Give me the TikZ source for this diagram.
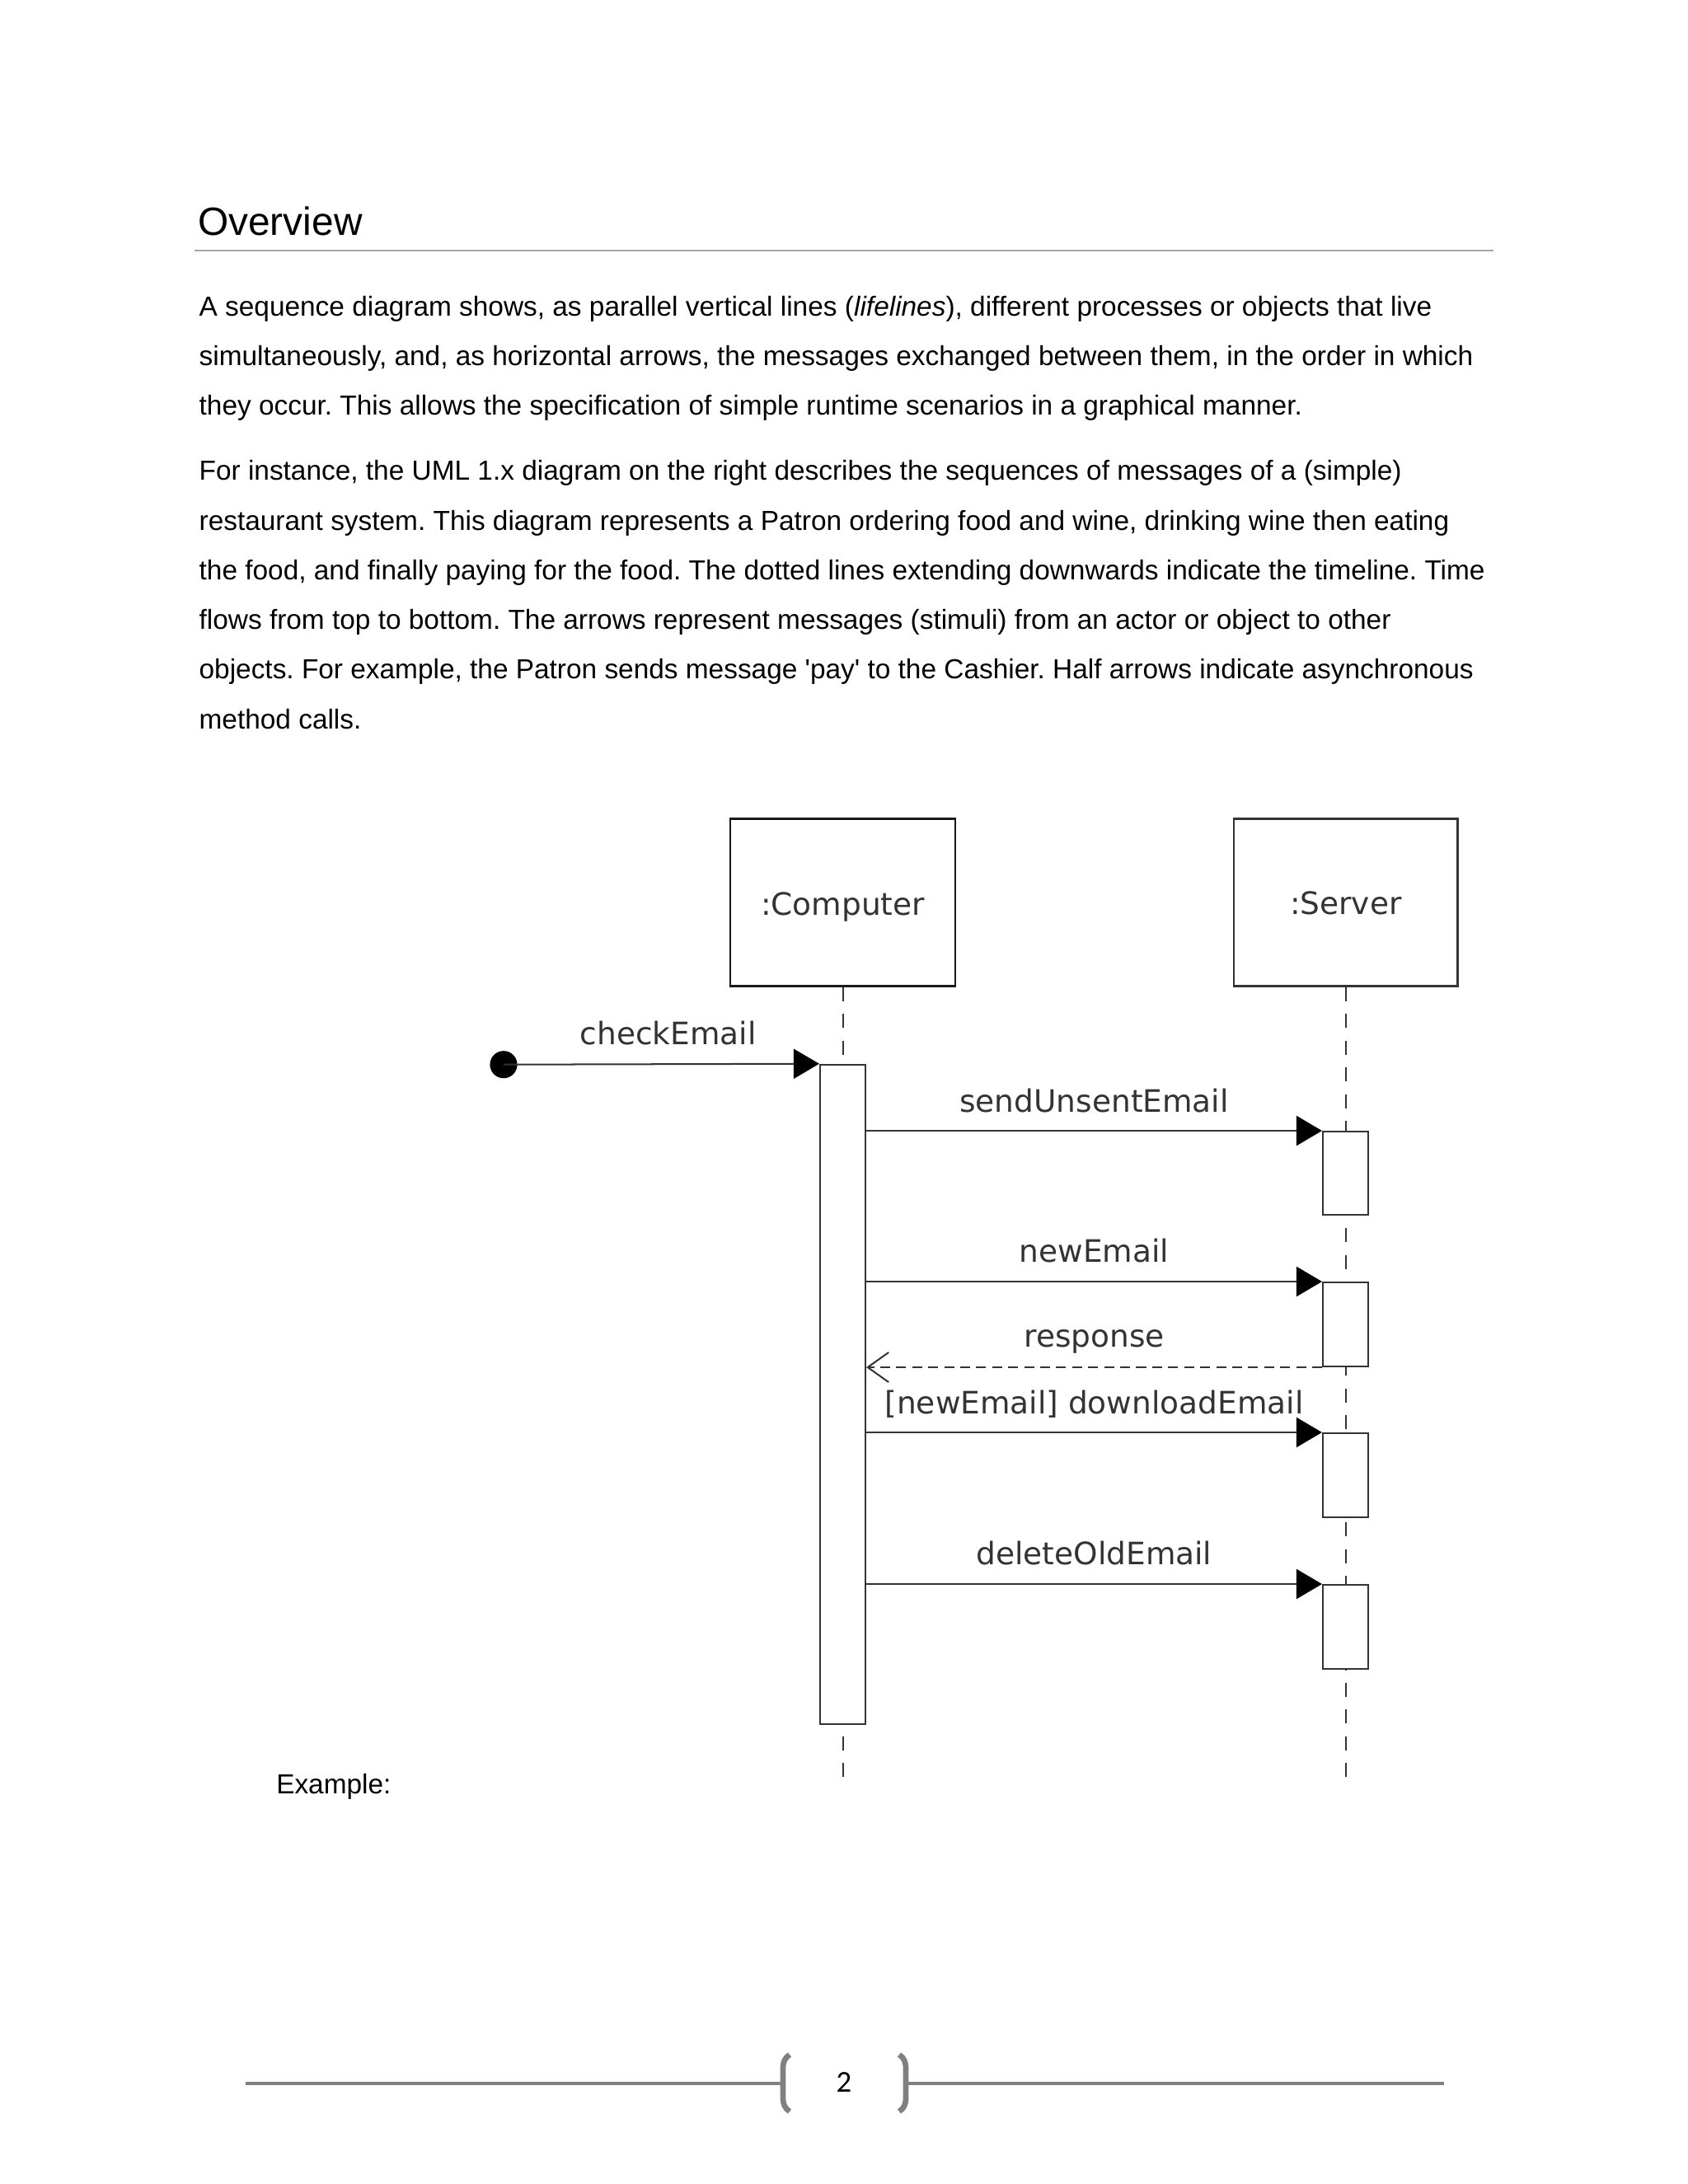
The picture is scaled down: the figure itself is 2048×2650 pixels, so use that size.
\documentclass[tikz,border=0pt]{standalone}
\usepackage{fontspec}
\setmainfont{Liberation Sans}
\newfontfamily\umlfont{DejaVu Sans}
\newfontfamily\pagefont{Carlito}
\usepackage{xcolor}
\usetikzlibrary{arrows.meta,fit}
\frenchspacing

\definecolor{umlgray}{RGB}{51,51,51}
\definecolor{rulegray}{RGB}{166,166,166}
\definecolor{footgray}{RGB}{128,128,128}

\tikzset{
  bodytext/.style={anchor=base west, inner sep=0pt, font=\fontsize{9.98}{12}\selectfont},
  lifeline/.style={draw=umlgray, line width=0.6pt, dash pattern=on 5.1pt off 4.6pt},
  objbox/.style={draw=black!90, line width=0.8pt, inner sep=0pt},
  actbar/.style={draw=umlgray, fill=white, line width=0.6pt, inner sep=0pt},
  umllabel/.style={font=\umlfont\fontsize{11.2}{13}\selectfont, text=umlgray, inner sep=0pt, anchor=base},
  callmsg/.style={draw=umlgray, line width=0.6pt, -{Triangle[length=9.3pt,width=10.8pt,color=black]}},
  replymsg/.style={draw=umlgray, line width=0.6pt, dash pattern=on 3.6pt off 2.2pt, -{Straight Barb[length=7.6pt,width=10.8pt]}},
  bracketline/.style={draw=footgray, line width=2pt},
}

\begin{document}
\begin{tikzpicture}[x=0.298828pt,y=0.298828pt,yscale=-1,xscale=1]
\useasboundingbox (0,0) rectangle (2048,2650);

% Text Node
\node[anchor=base west, inner sep=0pt, font=\fontsize{14.3}{17}\selectfont] (title) at (239.5,285.7) {Overview};
%Straight Lines
\draw[rulegray, line width=0.7pt] (236,304.3) -- (1812,304.3);

% Text Node
\node[bodytext] (pa1) at (241,383.3) {A sequence diagram shows, as parallel vertical lines (\textit{lifelines}), different processes or objects that live};
\node[bodytext] (pa2) at (241,443.6) {simultaneously, and, as horizontal arrows, the messages exchanged between them, in the order in which};
\node[bodytext] (pa3) at (241,503.9) {they occur. This allows the specification of simple runtime scenarios in a graphical manner.};
% Text Node
\node[bodytext] (pb1) at (241,582.7) {For instance, the UML 1.x diagram on the right describes the sequences of messages of a (simple)};
\node[bodytext] (pb2) at (241,643.0) {restaurant system. This diagram represents a Patron ordering food and wine, drinking wine then eating};
\node[bodytext] (pb3) at (241,703.3) {the food, and finally paying for the food. The dotted lines extending downwards indicate the timeline. Time};
\node[bodytext] (pb4) at (241,763.6) {flows from top to bottom. The arrows represent messages (stimuli) from an actor or object to other};
\node[bodytext] (pb5) at (241,823.9) {objects. For example, the Patron sends message \textquotesingle pay\textquotesingle{} to the Cashier. Half arrows indicate asynchronous};
\node[bodytext] (pb6) at (241,884.2) {method calls.};

%Shape: Rectangle
\node[objbox, fit={(886,993.5) (1159,1196.6)}] (comp) {};
\node[objbox, draw=umlgray, fit={(1497,993.5) (1768.6,1196.6)}] (serv) {};
\node[umllabel] (complbl) at ([yshift=4.7pt]comp.center) {:Computer};
\node[umllabel] (servlbl) at ([yshift=4.4pt]serv.center) {:Server};

%Dashed Lines
\coordinate (compend) at (comp.south |- 0,2157);
\coordinate (servend) at (serv.south |- 0,2157);
\draw[lifeline] (comp.south) -- (compend);
\draw[lifeline] (serv.south) -- (servend);

%Shape: Rectangle
\node[actbar, fit={(995,1291.7) (1050,2092)}] (cbar) {};
\node[actbar, fit={(1605,1373) (1660,1474)}] (sbara) {};
\node[actbar, fit={(1605,1556) (1660,1658)}] (sbarb) {};
\node[actbar, fit={(1605,1739) (1660,1841)}] (sbarc) {};
\node[actbar, fit={(1605,1923) (1660,2024.5)}] (sbard) {};

%Shape: Circle
\node[circle, fill=black, inner sep=0pt, minimum size=9.9pt] (init) at (611,1291.7) {};

%Straight Lines
\draw[callmsg] (init.center) -- (cbar.north west) node[midway, umllabel, xshift=2.4pt, yshift=7pt] (lcheck) {checkEmail};
\draw[callmsg] (cbar.east |- sbara.north west) -- (sbara.north west) node[midway, umllabel, yshift=6.8pt] (lsend) {sendUnsentEmail};
\draw[callmsg] (cbar.east |- sbarb.north west) -- (sbarb.north west) node[midway, umllabel, yshift=6.9pt] (lnew) {newEmail};
\draw[replymsg] (sbarb.south west) -- (cbar.east |- sbarb.south west) node[midway, umllabel, yshift=7.2pt] (lresp) {response};
\draw[callmsg] (cbar.east |- sbarc.north west) -- (sbarc.north west) node[midway, umllabel, yshift=6.6pt] (ldown) {[newEmail] downloadEmail};
\draw[callmsg] (cbar.east |- sbard.north west) -- (sbard.north west) node[midway, umllabel, yshift=6.9pt] (ldel) {deleteOldEmail};

% Text Node
\node[bodytext] (example) at (334.6,2176) {Example:};

%Footer
\coordinate (lbrk) at (950,2528);
\coordinate (rbrk) at (1099,2528);
\draw[footgray, line width=1pt] (297.5,2528) -- (lbrk);
\draw[footgray, line width=1pt] (rbrk) -- (1752,2528);
\draw[bracketline] (958,2493) .. controls (952,2497) and (950,2502) .. (950,2510) -- (950,2545) .. controls (950,2553) and (952,2558) .. (958,2562);
\draw[bracketline] (1091,2493) .. controls (1097,2497) and (1099,2502) .. (1099,2510) -- (1099,2545) .. controls (1099,2553) and (1097,2558) .. (1091,2562);
\node[anchor=base, inner sep=0pt, font=\pagefont\fontsize{11}{13}\selectfont] (pagenum) at (1024,2538) {2};

\end{tikzpicture}
\end{document}
